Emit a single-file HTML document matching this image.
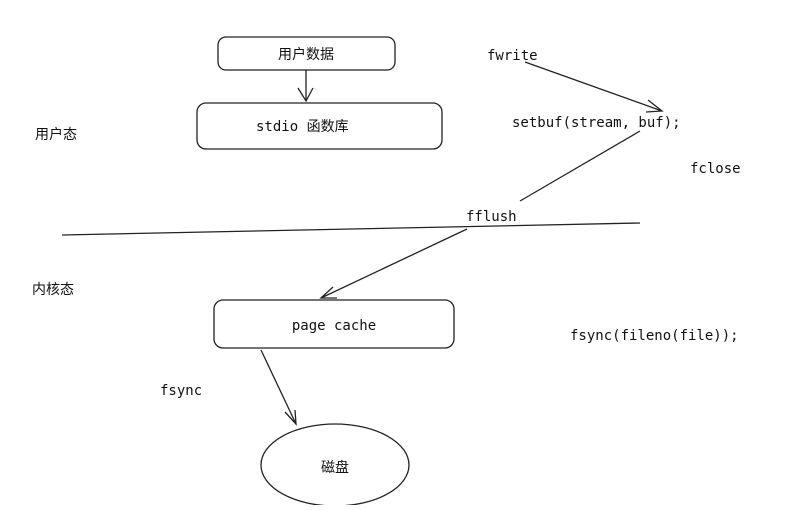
<!DOCTYPE html>
<html><head><meta charset="utf-8"><style>
body{margin:0;background:#fff;}
svg text{font-family:"DejaVu Sans Mono","Liberation Mono",monospace;font-size:14px;fill:#111;}
.cjk{font-family:"Liberation Sans","Noto Sans CJK SC",sans-serif;font-size:14px;}
</style></head><body>
<svg width="790" height="505" viewBox="0 0 790 505" xmlns="http://www.w3.org/2000/svg">
<g fill="none" stroke="#222" stroke-width="1.3">
<rect x="218" y="37" width="177" height="33" rx="8"/>
<rect x="197" y="103" width="245" height="46" rx="9"/>
<rect x="214" y="300" width="240" height="48" rx="9"/>
<ellipse cx="335" cy="465" rx="74" ry="41"/>
<line x1="306" y1="70" x2="306" y2="101"/>
<polyline points="298,88 306,101 313,88"/>
<line x1="525" y1="62" x2="662" y2="111"/>
<polyline points="648,100 662,111 646,112"/>
<line x1="640" y1="131" x2="520" y2="201"/>
<line x1="62" y1="235" x2="640" y2="223"/>
<line x1="467" y1="229" x2="321" y2="298"/>
<polyline points="333,287 321,298 337,298"/>
<line x1="261" y1="350" x2="296" y2="424"/>
<polyline points="285,412 296,424 295,410"/>
</g>
<text class="cjk" x="306" y="59" text-anchor="middle">用户数据</text>
<text x="256" y="131">stdio <tspan class="cjk">函数库</tspan></text>
<text x="334" y="330" text-anchor="middle">page cache</text>
<text class="cjk" x="335" y="472" text-anchor="middle">磁盘</text>
<text x="487" y="60">fwrite</text>
<text x="512" y="127">setbuf(stream, buf);</text>
<text x="690" y="173">fclose</text>
<text x="466" y="221">fflush</text>
<text x="570" y="340">fsync(fileno(file));</text>
<text x="160" y="395">fsync</text>
<text class="cjk" x="35" y="139">用户态</text>
<text class="cjk" x="32" y="294">内核态</text>
</svg>
</body></html>
